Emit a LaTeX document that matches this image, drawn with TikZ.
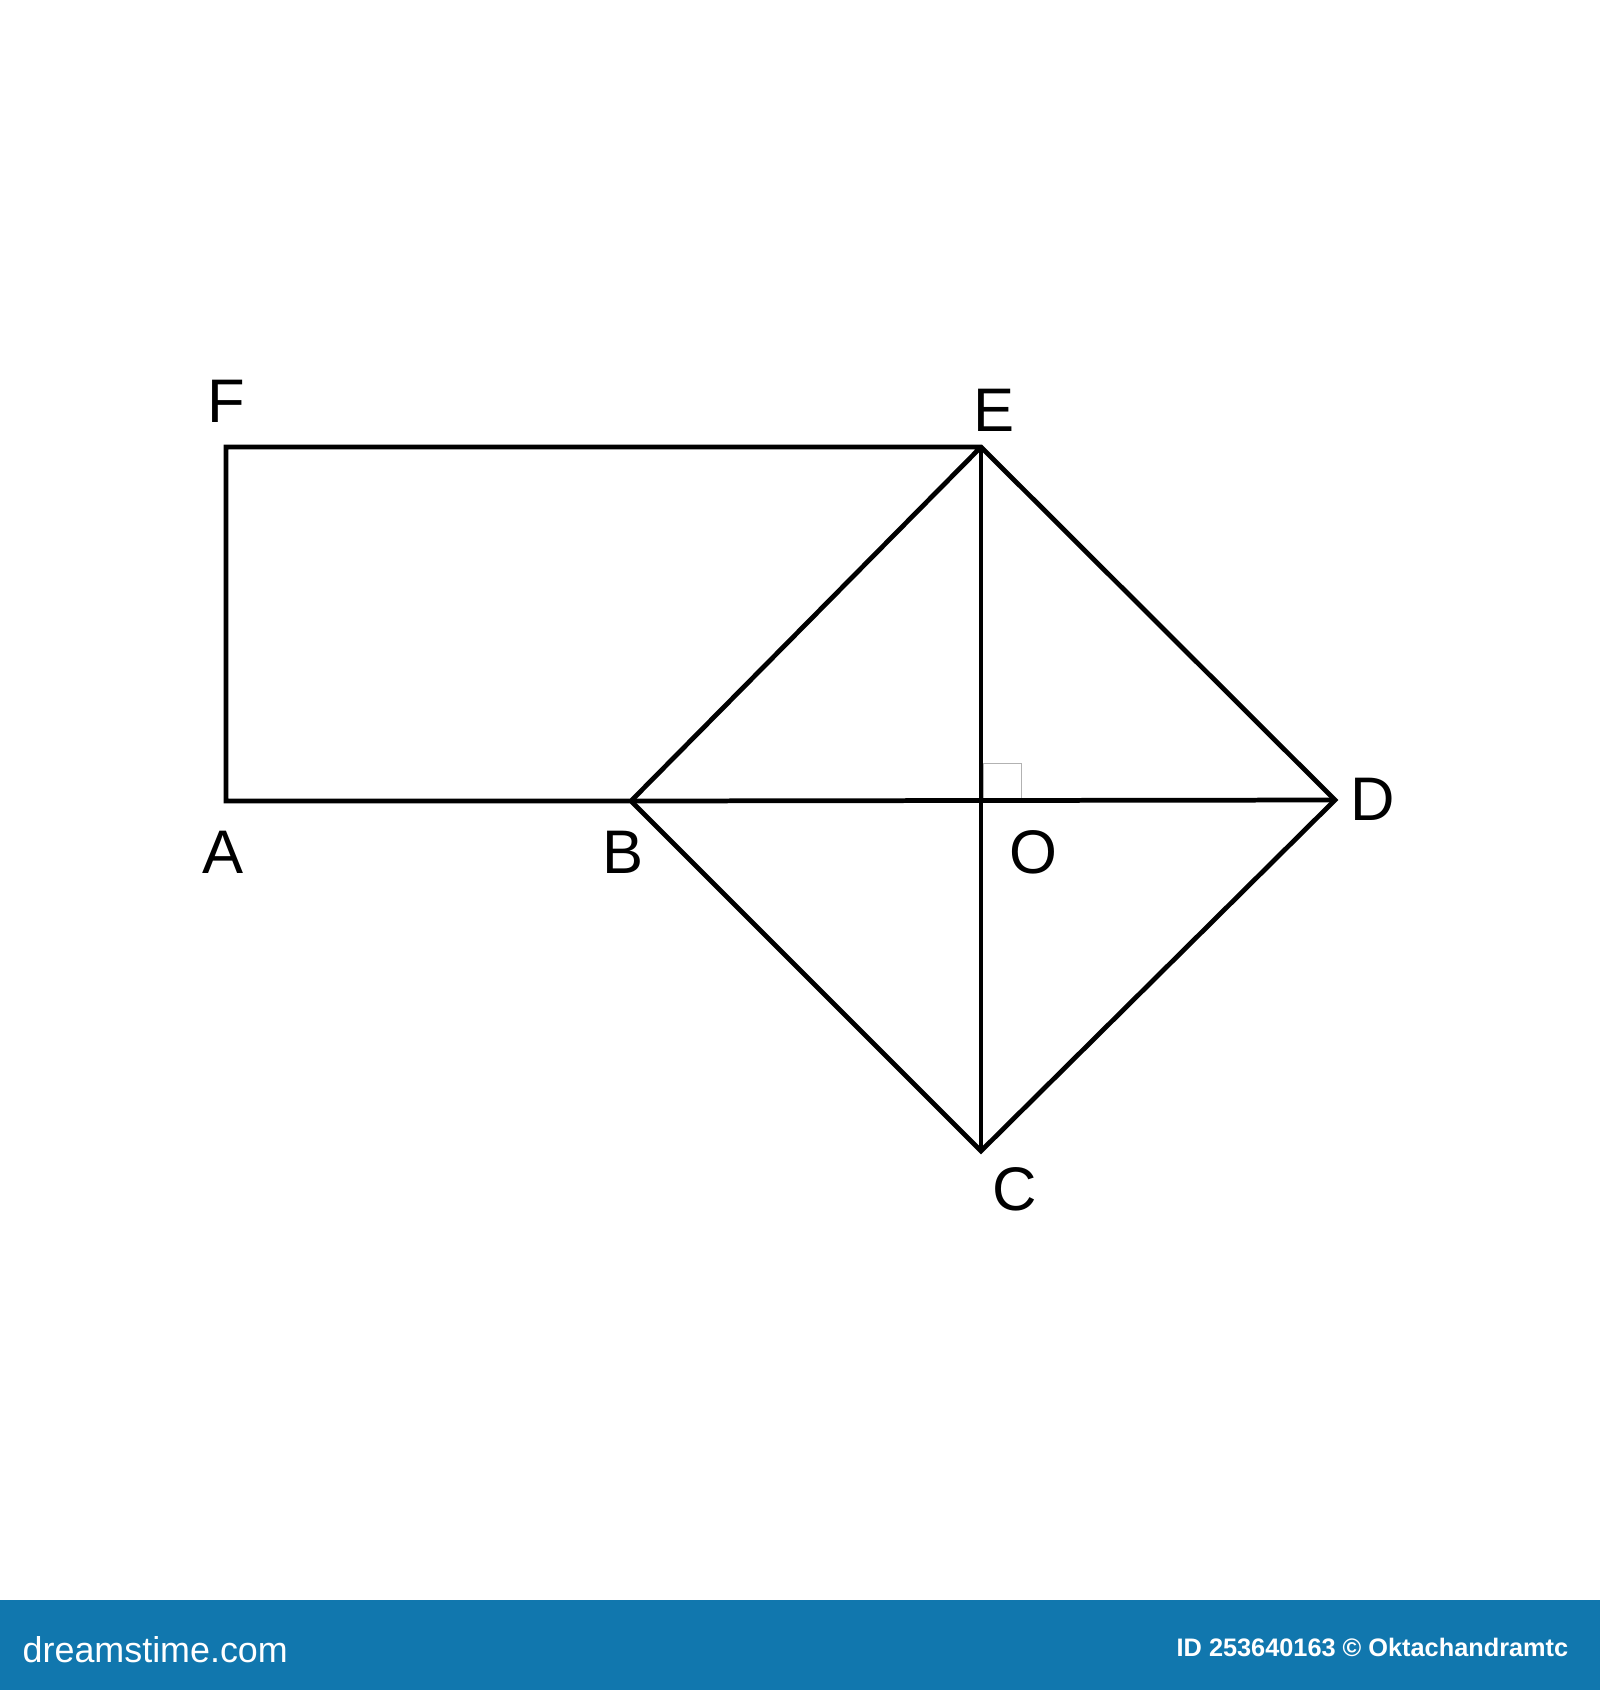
\documentclass[tikz,border=0pt]{standalone}
\usepackage{fontspec}
\setmainfont{Liberation Sans}
\usetikzlibrary{positioning}
\definecolor{bannerblue}{RGB}{17,119,174}

\begin{document}
\begin{tikzpicture}[x=0.01cm, y=-0.01cm]
%% positions are given in pixels of the 1600x1690 drawing, y pointing down
\tikzstyle{edge}=[line width=1.35pt, line join=miter, black]
\tikzstyle{rightangle}=[line width=0.25pt, gray!60]
\tikzstyle{vlabel}=[font=\fontsize{17.5}{21}\selectfont, inner sep=0pt]
\tikzstyle{bannertext}=[text=white, inner sep=0pt]
\useasboundingbox (0,0) rectangle (1600,1690);
%% points of the figure %%
\coordinate (A) at (226,801);
\coordinate (B) at (631,801);
\coordinate (O) at (981,801);
\coordinate (D) at (1335,800);
\coordinate (E) at (981,447);
\coordinate (F) at (226,447);
\coordinate (C) at (981,1151);
%% right angle at O
\draw[rightangle] (983,763) rectangle (1021,799);
%% rectangle ABEF and square BCDE
\draw[edge] (B) -- (A) -- (F) -- (E) -- (D) -- (C) -- (B) -- (E);
\draw[edge] (B) -- (D);
\draw[edge] (E) -- (C);
%% labels of the points
\node[vlabel] (lF) at (226,401) {F};
\node[vlabel] (lE) at (994,410) {E};
\node[vlabel] (lD) at (1373,799) {D};
\node[vlabel] (lA) at (223,852) {A};
\node[vlabel] (lB) at (623,852) {B};
\node[vlabel] (lO) at (1033,852) {O};
\node[vlabel] (lC) at (1015,1189) {C};
%% banner
\fill[bannerblue] (0,1600) rectangle (1600,1690);
\node[bannertext, anchor=west, font=\fontsize{10.2}{12}\selectfont] (site) at (22,1650) {dreamstime.com};
\node[bannertext, anchor=east, font=\bfseries\fontsize{7.2}{9}\selectfont] (credit) at (1569,1647) {ID 253640163 © Oktachandramtc};
\end{tikzpicture}
\end{document}
